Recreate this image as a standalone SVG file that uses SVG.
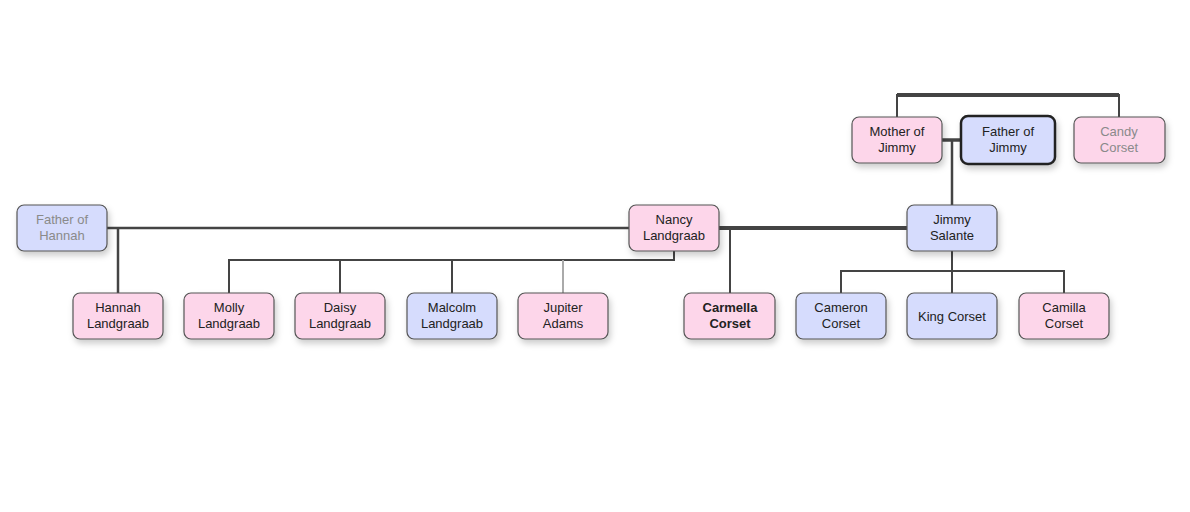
<svg xmlns="http://www.w3.org/2000/svg" width="1190" height="512" viewBox="0 0 1190 512">
<defs>
<filter id="sh" x="-20%" y="-20%" width="150%" height="160%"><feDropShadow dx="2" dy="4" stdDeviation="3" flood-color="#000" flood-opacity="0.2"/></filter>
</defs>
<style>
.n rect{stroke:#555;stroke-width:1.2;filter:url(#sh)}
.f rect{fill:#fdd6ea}
.m rect{fill:#d6dcfd}
text{font-family:"Liberation Sans",Arial,sans-serif;font-size:13px;fill:#222;text-anchor:middle}
.g text{fill:#8a8a8a}
.c line,.c polyline{stroke:#444;fill:none;stroke-width:2}
</style>
<rect width="1190" height="512" fill="#fff"/>
<g class="c">
<polyline points="897,117 897,95 1119,95 1119,117" style="stroke-width:2"/>
<line x1="897" y1="95" x2="1119" y2="95" style="stroke-width:4"/>
<line x1="942" y1="140" x2="961" y2="140" style="stroke-width:3.5"/>
<line x1="952" y1="140" x2="952" y2="205" style="stroke-width:2.5"/>
<line x1="107" y1="228" x2="629" y2="228" style="stroke-width:2.5"/>
<line x1="118" y1="228" x2="118" y2="293" style="stroke-width:2.5"/>
<polyline points="674,251 674,260 229,260 229,293"/>
<line x1="340" y1="260" x2="340" y2="293"/>
<line x1="452" y1="260" x2="452" y2="293"/>
<line x1="563" y1="260" x2="563" y2="293" style="stroke:#aaa"/>
<line x1="719" y1="228" x2="907" y2="228" style="stroke-width:4"/>
<line x1="730" y1="228" x2="730" y2="293"/>
<polyline points="952,251 952,271 841,271 841,293"/>
<line x1="952" y1="271" x2="952" y2="293"/>
<polyline points="952,271 1064,271 1064,293"/>
</g>
<g id="motherJimmy" class="n f"><rect x="852" y="117" width="90" height="46" rx="7"/><text x="897" y="136">Mother of</text><text x="897" y="152">Jimmy</text></g>
<g id="fatherJimmy" class="n m"><rect x="961" y="116" width="94" height="48" rx="7" style="stroke:#222;stroke-width:2.5"/><text x="1008" y="136">Father of</text><text x="1008" y="152">Jimmy</text></g>
<g id="candy" class="n f g"><rect x="1074" y="117" width="91" height="46" rx="7"/><text x="1119" y="136">Candy</text><text x="1119" y="152">Corset</text></g>
<g id="fatherHannah" class="n m g"><rect x="17" y="205" width="90" height="46" rx="7"/><text x="62" y="224">Father of</text><text x="62" y="240">Hannah</text></g>
<g id="nancy" class="n f"><rect x="629" y="205" width="90" height="46" rx="7"/><text x="674" y="224">Nancy</text><text x="674" y="240">Landgraab</text></g>
<g id="jimmy" class="n m"><rect x="907" y="205" width="90" height="46" rx="7"/><text x="952" y="224">Jimmy</text><text x="952" y="240">Salante</text></g>
<g id="hannah" class="n f"><rect x="73" y="293" width="90" height="46" rx="7"/><text x="118" y="312">Hannah</text><text x="118" y="328">Landgraab</text></g>
<g id="molly" class="n f"><rect x="184" y="293" width="90" height="46" rx="7"/><text x="229" y="312">Molly</text><text x="229" y="328">Landgraab</text></g>
<g id="daisy" class="n f"><rect x="295" y="293" width="90" height="46" rx="7"/><text x="340" y="312">Daisy</text><text x="340" y="328">Landgraab</text></g>
<g id="malcolm" class="n m"><rect x="407" y="293" width="90" height="46" rx="7"/><text x="452" y="312">Malcolm</text><text x="452" y="328">Landgraab</text></g>
<g id="jupiter" class="n f"><rect x="518" y="293" width="90" height="46" rx="7"/><text x="563" y="312">Jupiter</text><text x="563" y="328">Adams</text></g>
<g id="carmella" class="n f"><rect x="684" y="293" width="91" height="46" rx="7"/><text x="730" y="312" font-weight="bold">Carmella</text><text x="730" y="328" font-weight="bold">Corset</text></g>
<g id="cameron" class="n m"><rect x="796" y="293" width="90" height="46" rx="7"/><text x="841" y="312">Cameron</text><text x="841" y="328">Corset</text></g>
<g id="king" class="n m"><rect x="907" y="293" width="90" height="46" rx="7"/><text x="952" y="321">King Corset</text></g>
<g id="camilla" class="n f"><rect x="1019" y="293" width="90" height="46" rx="7"/><text x="1064" y="312">Camilla</text><text x="1064" y="328">Corset</text></g>
</svg>
